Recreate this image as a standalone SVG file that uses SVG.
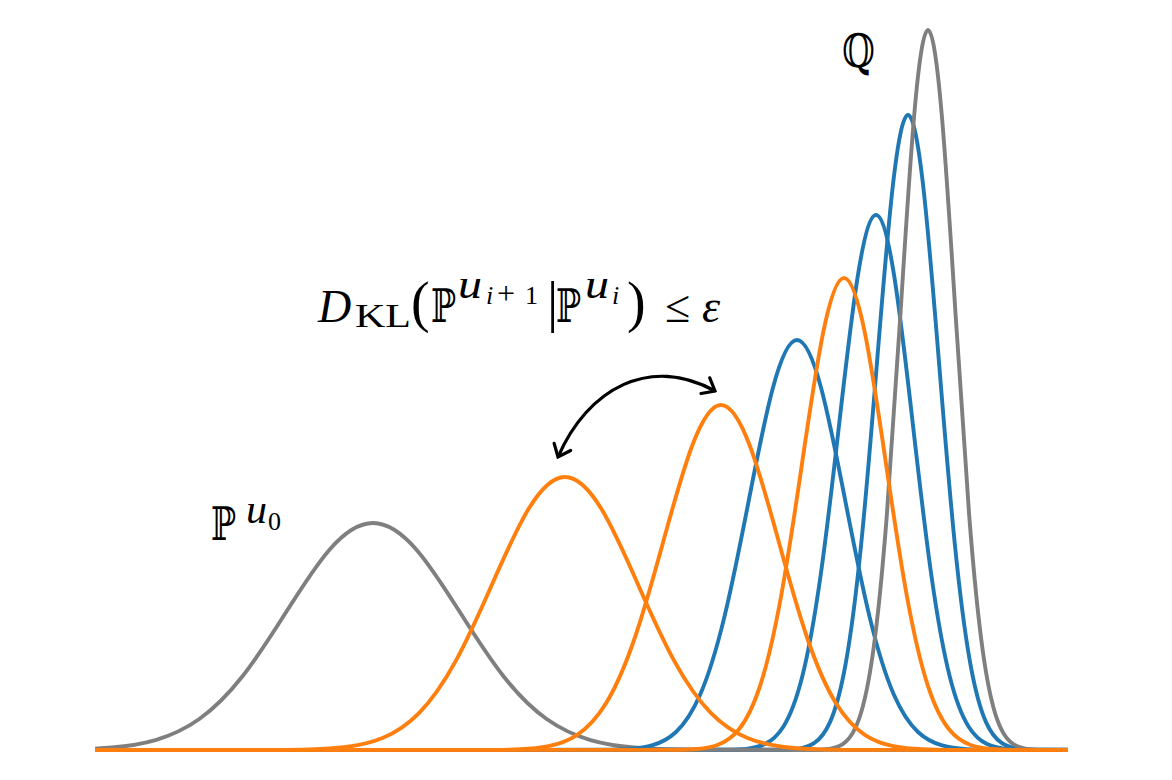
<svg xmlns="http://www.w3.org/2000/svg" xmlns:xlink="http://www.w3.org/1999/xlink" width="1172" height="780" viewBox="0 0 1172 780">
<style>
.c{fill:none;stroke-width:3.9;stroke-linejoin:round;vector-effect:non-scaling-stroke}
.gray{stroke:#7f7f7f}
.orange{stroke:#ff7f0e}
.blue{stroke:#1f77b4}
.t{fill:#000;font-family:"Liberation Serif","DejaVu Serif",serif}
.it{font-style:italic}
.bb{font-family:"DejaVu Serif","DejaVu Sans",serif}
</style>
<defs>
<path id="g" class="c" d="M -40 0 L -4 -0.000335 C -3.8333 -0.000559 -3.6667 -0.000911 -3.5 -0.002187 C -3.3333 -0.003463 -3.1667 -0.005554 -3 -0.011109 C -2.8333 -0.016664 -2.6667 -0.02563 -2.5 -0.043937 C -2.3333 -0.062244 -2.1667 -0.090223 -2 -0.135335 C -1.8333 -0.180447 -1.6667 -0.243489 -1.5 -0.324652 C -1.3333 -0.405815 -1.1667 -0.505442 -1 -0.606531 C -0.8333 -0.70762 -0.6667 -0.808956 -0.5 -0.882497 C -0.3333 -0.956038 -0.1667 -1 0 -1 C 0.1667 -1 0.3333 -0.956038 0.5 -0.882497 C 0.6667 -0.808956 0.8333 -0.70762 1 -0.606531 C 1.1667 -0.505442 1.3333 -0.405815 1.5 -0.324652 C 1.6667 -0.243489 1.8333 -0.180447 2 -0.135335 C 2.1667 -0.090223 2.3333 -0.062244 2.5 -0.043937 C 2.6667 -0.02563 2.8333 -0.016664 3 -0.011109 C 3.1667 -0.005554 3.3333 -0.003463 3.5 -0.002187 C 3.6667 -0.000911 3.8333 -0.000559 4 -0.000335 L 40 0"/>
<clipPath id="clip" clipPathUnits="userSpaceOnUse"><rect x="95" y="0" width="973" height="780"/></clipPath>
<marker id="ah" viewBox="-14 -11 16 22" markerWidth="16" markerHeight="22" refX="0" refY="0" orient="auto-start-reverse" markerUnits="userSpaceOnUse">
<path d="M -11 -9 L 0 0 L -11 9" fill="none" stroke="#000" stroke-width="3.2" stroke-linecap="round" stroke-linejoin="miter"/>
</marker>
</defs>
<g id="curves" clip-path="url(#clip)">
<use id="p0" xlink:href="#g" class="gray" transform="translate(373 750) scale(87 227)"/>
<use id="b1" xlink:href="#g" class="blue" transform="translate(797 750) scale(48.4 410)"/>
<use id="b2" xlink:href="#g" class="blue" transform="translate(876 750) scale(37 535)"/>
<use id="b3" xlink:href="#g" class="blue" transform="translate(908 750) scale(31.2 635)"/>
<use id="q" xlink:href="#g" class="gray" transform="translate(928 750) scale(27.5 720)"/>
<use id="o1" xlink:href="#g" class="orange" transform="translate(565 750) scale(73 273)"/>
<use id="o2" xlink:href="#g" class="orange" transform="translate(721 750) scale(57.5 345)"/>
<use id="o3" xlink:href="#g" class="orange" transform="translate(844 750) scale(42 472)"/>
</g>
<g id="connectors">
<path d="M 558 457 C 588 388 650 355 715 391" fill="none" stroke="#000" stroke-width="3.2" marker-start="url(#ah)" marker-end="url(#ah)"/>
</g>
<g id="label-kl">
<text class="t"><tspan x="318" y="322" font-size="46" class="it">D</tspan><tspan x="355" y="327" font-size="33" textLength="56" lengthAdjust="spacingAndGlyphs">KL</tspan><tspan x="411" y="321" font-size="56">(</tspan><tspan x="431" y="322" font-size="46" class="bb" textLength="25" lengthAdjust="spacingAndGlyphs">ℙ</tspan><tspan x="458" y="298" font-size="42" class="it" textLength="24" lengthAdjust="spacingAndGlyphs">u</tspan><tspan x="486" y="304" font-size="26" class="it">i</tspan><tspan x="497" y="304" font-size="32">+</tspan><tspan x="525" y="304" font-size="26">1</tspan><tspan x="547" y="321" font-size="56">|</tspan><tspan x="556" y="322" font-size="46" class="bb" textLength="25" lengthAdjust="spacingAndGlyphs">ℙ</tspan><tspan x="585" y="298" font-size="42" class="it" textLength="24" lengthAdjust="spacingAndGlyphs">u</tspan><tspan x="612" y="304" font-size="26" class="it">i</tspan><tspan x="627" y="321" font-size="56">)</tspan><tspan x="665" y="322" font-size="46">≤</tspan><tspan x="702" y="322" font-size="46" class="it">ε</tspan></text>
</g>
<g id="label-p0">
<text class="t"><tspan x="211" y="540" font-size="46" class="bb" textLength="25" lengthAdjust="spacingAndGlyphs">ℙ</tspan><tspan x="246" y="523" font-size="40" class="it" textLength="21" lengthAdjust="spacingAndGlyphs">u</tspan><tspan x="268" y="530" font-size="26">0</tspan></text>
</g>
<g id="label-q">
<text class="t" x="842" y="67" font-size="46"><tspan class="bb" textLength="33" lengthAdjust="spacingAndGlyphs">ℚ</tspan></text>
</g>
</svg>
